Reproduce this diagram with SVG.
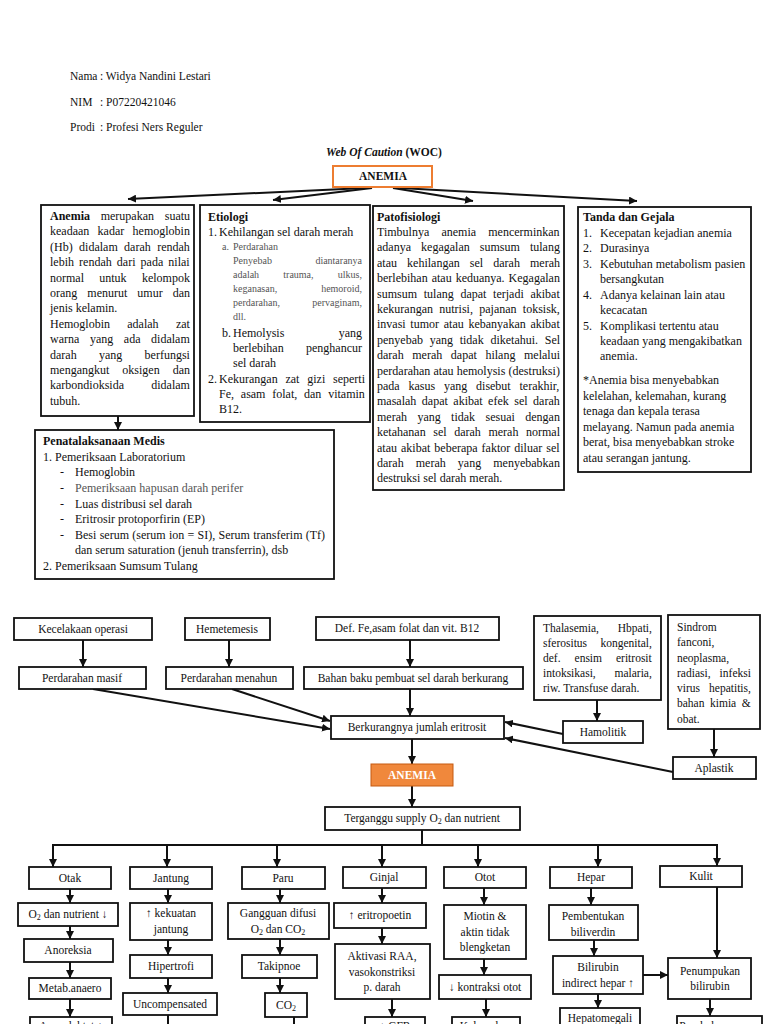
<svg xmlns="http://www.w3.org/2000/svg" width="768" height="1024" viewBox="0 0 768 1024">
<defs>
<marker id="ah" viewBox="0 0 10 10" refX="10" refY="5" markerWidth="8" markerHeight="8" markerUnits="userSpaceOnUse" orient="auto"><path d="M0,0 L10,5 L0,10 z" fill="#111"/></marker>
</defs>
<style>
text{font-family:"Liberation Serif","Times New Roman",serif;font-size:12px;fill:#111}
.h{font-size:11.5px}
.n{font-size:11.5px}
.b{font-weight:bold}
.i{font-style:italic}
.c{text-anchor:middle}
.s{font-size:10px;fill:#555}
.g{fill:#555}
.sub{font-size:8px}
.box{fill:#fff;stroke:#111;stroke-width:1.8}
.ln{stroke:#111;stroke-width:2;fill:none}
.ar{stroke:#111;stroke-width:2;fill:none;marker-end:url(#ah)}
</style>
<rect width="768" height="1024" fill="#fff"/>

<g id="header">
<text x="70" y="80" class="h">Nama</text><text x="100" y="80" class="h">: Widya Nandini Lestari</text>
<text x="70" y="106" class="h">NIM</text><text x="100" y="106" class="h">: P07220421046</text>
<text x="70" y="131" class="h">Prodi</text><text x="100" y="131" class="h">: Profesi Ners Reguler</text>
<text x="384" y="156" class="h c b"><tspan class="i">Web Of Caution</tspan> (WOC)</text>
</g>

<g id="connectors">
<line class="ar" x1="365" y1="188" x2="128" y2="199"/>
<line class="ar" x1="372" y1="188" x2="273" y2="200"/>
<line class="ar" x1="393" y1="188" x2="473" y2="201"/>
<line class="ar" x1="400" y1="188" x2="637" y2="201"/>
<line class="ar" x1="118" y1="416" x2="118" y2="430"/>

<line class="ar" x1="83" y1="640" x2="83" y2="667"/>
<line class="ar" x1="229" y1="640" x2="229" y2="667"/>
<line class="ar" x1="410" y1="640" x2="410" y2="667"/>
<line class="ar" x1="410" y1="689" x2="410" y2="716"/>
<line class="ar" x1="93" y1="689" x2="330" y2="729"/>
<line class="ar" x1="232" y1="689" x2="330" y2="721"/>
<line class="ar" x1="597" y1="700" x2="597" y2="721"/>
<line class="ar" x1="563" y1="734" x2="505" y2="722"/>
<line class="ar" x1="714" y1="729" x2="714" y2="757"/>
<line class="ar" x1="673" y1="772" x2="505" y2="738"/>
<line class="ar" x1="412" y1="739" x2="412" y2="764"/>
<line class="ar" x1="412" y1="786" x2="412" y2="807"/>

<line class="ln" x1="422" y1="830" x2="422" y2="845"/>
<polyline class="ln" points="53,866 53,845 717,845 717,862"/>
<line class="ar" x1="53" y1="845" x2="53" y2="867"/>
<line class="ar" x1="167" y1="845" x2="167" y2="867"/>
<line class="ar" x1="277" y1="845" x2="277" y2="867"/>
<line class="ar" x1="382" y1="845" x2="382" y2="867"/>
<line class="ar" x1="478" y1="845" x2="478" y2="867"/>
<line class="ar" x1="598" y1="845" x2="598" y2="867"/>
<line class="ar" x1="717" y1="845" x2="717" y2="866"/>

<line class="ar" x1="70" y1="889" x2="70" y2="903"/>
<line class="ar" x1="70" y1="926" x2="70" y2="939"/>
<line class="ar" x1="70" y1="962" x2="70" y2="978"/>
<line class="ar" x1="70" y1="999" x2="70" y2="1017"/>

<line class="ar" x1="168" y1="889" x2="168" y2="903"/>
<line class="ar" x1="168" y1="940" x2="168" y2="955"/>
<line class="ar" x1="168" y1="978" x2="168" y2="993"/>
<line class="ln" x1="168" y1="1015" x2="168" y2="1024"/>

<line class="ar" x1="280" y1="889" x2="280" y2="903"/>
<line class="ar" x1="280" y1="939" x2="280" y2="955"/>
<line class="ar" x1="280" y1="978" x2="280" y2="993"/>
<line class="ln" x1="294" y1="1017" x2="294" y2="1024"/>

<line class="ar" x1="382" y1="888" x2="382" y2="903"/>
<line class="ar" x1="382" y1="928" x2="382" y2="944"/>
<line class="ar" x1="392" y1="999" x2="392" y2="1017"/>

<line class="ar" x1="484" y1="888" x2="484" y2="905"/>
<line class="ar" x1="484" y1="959" x2="484" y2="975"/>
<line class="ar" x1="486" y1="999" x2="486" y2="1017"/>

<line class="ar" x1="591" y1="888" x2="591" y2="905"/>
<line class="ar" x1="594" y1="940" x2="594" y2="956"/>
<line class="ar" x1="598" y1="994" x2="598" y2="1008"/>

<line class="ar" x1="717" y1="887" x2="717" y2="958"/>
<line class="ar" x1="643" y1="975" x2="668" y2="975"/>
<line class="ar" x1="710" y1="999" x2="710" y2="1016"/>
</g>

<g id="anemia-top">
<rect x="333" y="166" width="99" height="21" fill="#fff" stroke="#ED7D31" stroke-width="2"/>
<text x="383" y="180" class="c b h">ANEMIA</text>
</g>

<g id="definisi">
<rect class="box" x="41" y="205" width="153" height="211"/>
<text x="50" y="220" style="word-spacing:7.7px"><tspan class="b">Anemia</tspan> merupakan suatu</text>
<text x="50" y="235.4" style="word-spacing:5.3px">keadaan kadar hemoglobin</text>
<text x="50" y="250.8" style="word-spacing:3.4px">(Hb) didalam darah rendah</text>
<text x="50" y="266.2" style="word-spacing:2.1px">lebih rendah dari pada nilai</text>
<text x="50" y="281.6" style="word-spacing:12.3px">normal untuk kelompok</text>
<text x="50" y="297" style="word-spacing:7px">orang menurut umur dan</text>
<text x="50" y="312.4">jenis kelamin.</text>
<text x="50" y="327.8" style="word-spacing:14.3px">Hemoglobin adalah zat</text>
<text x="50" y="343.2" style="word-spacing:7.6px">warna yang ada didalam</text>
<text x="50" y="358.6" style="word-spacing:19.3px">darah yang berfungsi</text>
<text x="50" y="374" style="word-spacing:10px">mengangkut oksigen dan</text>
<text x="50" y="389.4" style="word-spacing:24.3px">karbondioksida didalam</text>
<text x="50" y="404.8">tubuh.</text>
</g>

<g id="etiologi">
<rect class="box" x="200" y="205" width="170" height="217"/>
<text x="208" y="221" class="b">Etiologi</text>
<text x="208" y="236">1.</text><text x="219" y="236">Kehilangan sel darah merah</text>
<text x="222" y="250" class="s">a.</text><text x="233" y="250" class="s">Perdarahan</text>
<text x="233" y="264" class="s" style="word-spacing:41px">Penyebab diantaranya</text>
<text x="233" y="278" class="s" style="word-spacing:21.7px">adalah trauma, ulkus,</text>
<text x="233" y="292" class="s" style="word-spacing:41.5px">keganasan, hemoroid,</text>
<text x="233" y="306" class="s" style="word-spacing:29.9px">perdarahan, pervaginam,</text>
<text x="233" y="320" class="s">dll.</text>
<text x="222" y="337">b.</text><text x="233" y="337" style="word-spacing:51.3px">Hemolysis yang</text>
<text x="233" y="352" style="word-spacing:19.4px">berlebihan penghancur</text>
<text x="233" y="367">sel darah</text>
<text x="208" y="383">2.</text><text x="219" y="383" style="word-spacing:4.8px">Kekurangan zat gizi seperti</text>
<text x="219" y="398" style="word-spacing:3.8px">Fe, asam folat, dan vitamin</text>
<text x="219" y="413">B12.</text>
</g>

<g id="patofisiologi">
<rect class="box" x="373" y="206" width="191" height="284"/>
<text x="377" y="221" class="b">Patofisiologi</text>
<text x="377" y="236" style="word-spacing:9.2px">Timbulnya anemia mencerminkan</text>
<text x="377" y="251.4" style="word-spacing:7.1px">adanya kegagalan sumsum tulang</text>
<text x="377" y="266.8" style="word-spacing:7.1px">atau kehilangan sel darah merah</text>
<text x="377" y="282.2" style="word-spacing:1px">berlebihan atau keduanya. Kegagalan</text>
<text x="377" y="297.6" style="word-spacing:3.7px">sumsum tulang dapat terjadi akibat</text>
<text x="377" y="313" style="word-spacing:3.3px">kekurangan nutrisi, pajanan toksisk,</text>
<text x="377" y="328.4" style="word-spacing:1.7px">invasi tumor atau kebanyakan akibat</text>
<text x="377" y="343.8" style="word-spacing:3.7px">penyebab yang tidak diketahui. Sel</text>
<text x="377" y="359.2" style="word-spacing:5.6px">darah merah dapat hilang melalui</text>
<text x="377" y="374.6" style="word-spacing:0.2px">perdarahan atau hemolysis (destruksi)</text>
<text x="377" y="390" style="word-spacing:5.8px">pada kasus yang disebut terakhir,</text>
<text x="377" y="405.4" style="word-spacing:2.5px">masalah dapat akibat efek sel darah</text>
<text x="377" y="420.8" style="word-spacing:7.4px">merah yang tidak sesuai dengan</text>
<text x="377" y="436.2" style="word-spacing:4.6px">ketahanan sel darah merah normal</text>
<text x="377" y="451.6" style="word-spacing:1px">atau akibat beberapa faktor diluar sel</text>
<text x="377" y="467" style="word-spacing:9.1px">darah merah yang menyebabkan</text>
<text x="377" y="482.4">destruksi sel darah merah.</text>
</g>

<g id="tanda-gejala">
<rect class="box" x="578" y="207" width="173" height="265"/>
<text x="583" y="221" class="b">Tanda dan Gejala</text>
<text x="583" y="237">1.</text><text x="600" y="237">Kecepatan kejadian anemia</text>
<text x="583" y="252">2.</text><text x="600" y="252">Durasinya</text>
<text x="583" y="268">3.</text><text x="600" y="268">Kebutuhan metabolism pasien</text>
<text x="600" y="283">bersangkutan</text>
<text x="583" y="299">4.</text><text x="600" y="299">Adanya kelainan lain atau</text>
<text x="600" y="314">kecacatan</text>
<text x="583" y="330">5.</text><text x="600" y="330">Komplikasi tertentu atau</text>
<text x="600" y="345">keadaan yang mengakibatkan</text>
<text x="600" y="360">anemia.</text>
<text x="583" y="384">*Anemia bisa menyebabkan</text>
<text x="583" y="400">kelelahan, kelemahan, kurang</text>
<text x="583" y="415">tenaga dan kepala terasa</text>
<text x="583" y="431">melayang. Namun pada anemia</text>
<text x="583" y="446">berat, bisa menyebabkan stroke</text>
<text x="583" y="462">atau serangan jantung.</text>
</g>

<g id="penatalaksanaan">
<rect class="box" x="35" y="430" width="299" height="149"/>
<text x="43" y="445" class="b">Penatalaksanaan Medis</text>
<text x="43" y="461">1.</text><text x="55" y="461">Pemeriksaan Laboratorium</text>
<text x="60" y="476">-</text><text x="75" y="476">Hemoglobin</text>
<text x="60" y="492">-</text><text x="75" y="492" class="g">Pemeriksaan hapusan darah perifer</text>
<text x="60" y="508">-</text><text x="75" y="508">Luas distribusi sel darah</text>
<text x="60" y="523">-</text><text x="75" y="523">Eritrosir protoporfirin (EP)</text>
<text x="60" y="539">-</text><text x="75" y="539" style="word-spacing:0.3px">Besi serum (serum ion = SI), Serum transferim (Tf)</text>
<text x="75" y="554">dan serum saturation (jenuh transferrin), dsb</text>
<text x="43" y="570">2.</text><text x="55" y="570">Pemeriksaan Sumsum Tulang</text>
</g>

<g id="kecelakaan"><rect class="box" x="14" y="618" width="138" height="22"/><text x="83" y="633" class="c n">Kecelakaan operasi</text></g>
<g id="hemetemesis"><rect class="box" x="185" y="618" width="85" height="22"/><text x="227" y="633" class="c n">Hemetemesis</text></g>
<g id="def-fe"><rect class="box" x="316" y="617" width="183" height="23"/><text x="407" y="632" class="c n">Def. Fe,asam folat dan vit. B12</text></g>
<g id="thalasemia"><rect class="box" x="534" y="616" width="127" height="84"/>
<text x="543" y="632" class="n" style="word-spacing:16px">Thalasemia, Hbpati,</text>
<text x="543" y="647" class="n" style="word-spacing:10.5px">sferositus kongenital,</text>
<text x="543" y="662" class="n" style="word-spacing:11.1px">def. ensim eritrosit</text>
<text x="543" y="677" class="n" style="word-spacing:15.9px">intoksikasi, malaria,</text>
<text x="543" y="692" class="n">riw. Transfuse darah.</text>
</g>
<g id="sindrom"><rect class="box" x="668" y="615" width="92" height="114"/>
<text x="677" y="631" class="n">Sindrom</text>
<text x="677" y="646" class="n">fanconi,</text>
<text x="677" y="662" class="n">neoplasma,</text>
<text x="677" y="677" class="n" style="word-spacing:6.2px">radiasi, infeksi</text>
<text x="677" y="692" class="n" style="word-spacing:6.2px">virus hepatitis,</text>
<text x="677" y="707" class="n" style="word-spacing:2.7px">bahan kimia &amp;</text>
<text x="677" y="723" class="n">obat.</text>
</g>
<g id="perdarahan-masif"><rect class="box" x="19" y="667" width="127" height="22"/><text x="82" y="682" class="c n">Perdarahan masif</text></g>
<g id="perdarahan-menahun"><rect class="box" x="166" y="667" width="127" height="22"/><text x="229" y="682" class="c n">Perdarahan menahun</text></g>
<g id="bahan-baku"><rect class="box" x="304" y="667" width="219" height="22"/><text x="413" y="682" class="c n">Bahan baku pembuat sel darah berkurang</text></g>
<g id="berkurangnya"><rect class="box" x="331" y="716" width="173" height="23"/><text x="417" y="731" class="c n">Berkurangnya jumlah eritrosit</text></g>
<g id="hamolitik"><rect class="box" x="563" y="721" width="80" height="22"/><text x="603" y="736" class="c n">Hamolitik</text></g>
<g id="aplastik"><rect class="box" x="673" y="757" width="83" height="22"/><text x="714" y="772" class="c n">Aplastik</text></g>
<g id="anemia-bottom"><rect x="371" y="764" width="82" height="22" fill="#F0883C" stroke="#C55A11" stroke-width="1"/><text x="412" y="779" class="c b n" style="fill:#fff">ANEMIA</text></g>
<g id="terganggu"><rect class="box" x="325" y="807" width="195" height="23"/><text x="422" y="822" class="c n">Terganggu supply O<tspan class="sub" dy="2">2</tspan><tspan dy="-2"> dan nutrient</tspan></text></g>

<g id="otak"><rect class="box" x="29" y="867" width="82" height="22"/><text x="70" y="882" class="c n">Otak</text></g>
<g id="o2-nutrient"><rect class="box" x="18" y="903" width="100" height="23"/><text x="68" y="918" class="c n">O<tspan class="sub" dy="2">2</tspan><tspan dy="-2"> dan nutrient ↓</tspan></text></g>
<g id="anoreksia"><rect class="box" x="24" y="939" width="89" height="23"/><text x="68" y="954" class="c n">Anoreksia</text></g>
<g id="metab"><rect class="box" x="29" y="978" width="82" height="21"/><text x="70" y="992" class="c n">Metab.anaero</text></g>
<g id="asam-laktat"><rect class="box" x="30" y="1017" width="82" height="22"/><text x="71" y="1030" class="c n">Asam laktat ↑</text></g>

<g id="jantung"><rect class="box" x="130" y="867" width="82" height="22"/><text x="171" y="882" class="c n">Jantung</text></g>
<g id="kekuatan"><rect class="box" x="130" y="903" width="82" height="37"/><text x="171" y="917" class="c n">↑ kekuatan</text><text x="171" y="933" class="c n">jantung</text></g>
<g id="hipertrofi"><rect class="box" x="130" y="955" width="82" height="23"/><text x="171" y="970" class="c n">Hipertrofi</text></g>
<g id="uncompensated"><rect class="box" x="123" y="993" width="94" height="22"/><text x="170" y="1008" class="c n">Uncompensated</text></g>

<g id="paru"><rect class="box" x="242" y="867" width="83" height="22"/><text x="283" y="882" class="c n">Paru</text></g>
<g id="gangguan-difusi"><rect class="box" x="228" y="903" width="101" height="36"/><text x="278" y="917" class="c n">Gangguan difusi</text><text x="278" y="933" class="c n">O<tspan class="sub" dy="2">2</tspan><tspan dy="-2"> dan CO</tspan><tspan class="sub" dy="2">2</tspan></text></g>
<g id="takipnoe"><rect class="box" x="242" y="955" width="75" height="23"/><text x="279" y="970" class="c n">Takipnoe</text></g>
<g id="co2"><rect class="box" x="265" y="993" width="42" height="24"/><text x="286" y="1009" class="c n">CO<tspan class="sub" dy="2">2</tspan></text></g>

<g id="ginjal"><rect class="box" x="343" y="867" width="83" height="21"/><text x="384" y="881" class="c n">Ginjal</text></g>
<g id="eritropoetin"><rect class="box" x="334" y="903" width="92" height="25"/><text x="380" y="919" class="c n">↑ eritropoetin</text></g>
<g id="raa"><rect class="box" x="335" y="944" width="95" height="55"/><text x="382" y="960" class="c n">Aktivasi RAA,</text><text x="382" y="976" class="c n">vasokonstriksi</text><text x="382" y="991" class="c n">p. darah</text></g>
<g id="gfr"><rect class="box" x="365" y="1017" width="60" height="22"/><text x="395" y="1030" class="c n">↓ GFR</text></g>

<g id="otot"><rect class="box" x="444" y="867" width="82" height="21"/><text x="485" y="881" class="c n">Otot</text></g>
<g id="miotin"><rect class="box" x="444" y="905" width="82" height="54"/><text x="485" y="920" class="c n">Miotin &amp;</text><text x="485" y="936" class="c n">aktin tidak</text><text x="485" y="951" class="c n">blengketan</text></g>
<g id="kontraksi"><rect class="box" x="439" y="975" width="92" height="24"/><text x="485" y="991" class="c n">↓ kontraksi otot</text></g>
<g id="kelemahan"><rect class="box" x="452" y="1017" width="68" height="22"/><text x="486" y="1030" class="c n">Kelemahan</text></g>

<g id="hepar"><rect class="box" x="550" y="867" width="82" height="21"/><text x="591" y="881" class="c n">Hepar</text></g>
<g id="biliverdin"><rect class="box" x="549" y="905" width="89" height="35"/><text x="593" y="920" class="c n">Pembentukan</text><text x="593" y="936" class="c n">biliverdin</text></g>
<g id="bilirubin-indirect"><rect class="box" x="553" y="956" width="90" height="38"/><text x="598" y="971" class="c n">Bilirubin</text><text x="598" y="987" class="c n">indirect hepar ↑</text></g>
<g id="hepatomegali"><rect class="box" x="560" y="1008" width="80" height="22"/><text x="600" y="1022" class="c n">Hepatomegali</text></g>

<g id="kulit"><rect class="box" x="660" y="866" width="82" height="21"/><text x="701" y="880" class="c n">Kulit</text></g>
<g id="penumpukan"><rect class="box" x="668" y="958" width="83" height="41"/><text x="710" y="975" class="c n">Penumpukan</text><text x="710" y="990" class="c n">bilirubin</text></g>
<g id="perubahan-kulit"><rect class="box" x="677" y="1016" width="85" height="22"/><text x="719" y="1030" class="c n">Perubahan warna</text></g>
</svg>
